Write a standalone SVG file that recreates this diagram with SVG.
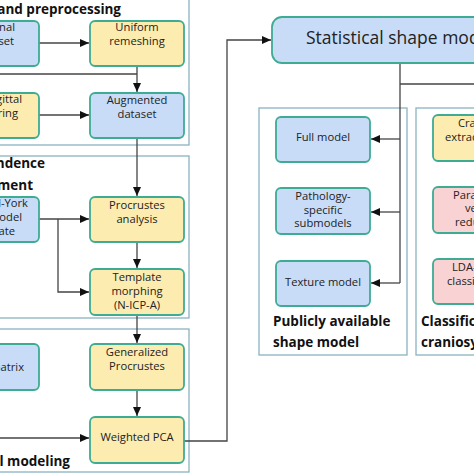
<svg xmlns="http://www.w3.org/2000/svg" width="474" height="474" viewBox="0 0 474 474">
<defs>
<marker id="ah" markerWidth="9" markerHeight="8" refX="9" refY="4" orient="auto" markerUnits="userSpaceOnUse">
<path d="M0,0 L9,4 L0,8 Z" fill="#111"/>
</marker>
<style>
.cont{fill:none;stroke:#8ab3c1;stroke-width:1.3}
.node{stroke:#3eab93;stroke-width:1.8}
.blue{fill:#c8dcf7}
.yel{fill:#fdecb0}
.pink{fill:#f9d2d3}
.t{font-family:"Open Sans","Noto Sans",sans-serif;font-size:11.2px;fill:#222}
.tm{text-anchor:middle}
.te{text-anchor:end}
.h{font-family:"Open Sans","Noto Sans",sans-serif;font-size:13.5px;font-weight:bold;fill:#111}
.c{fill:none;stroke:#444;stroke-width:1.3}
.ca{fill:none;stroke:#444;stroke-width:1.3;marker-end:url(#ah)}
</style>
</defs>
<rect width="474" height="474" fill="#fff"/>

<g id="containers">
<rect class="cont" x="-10" y="-10" width="199" height="155"/>
<rect class="cont" x="-10" y="156" width="199" height="162"/>
<rect class="cont" x="-10" y="329" width="199" height="143"/>
<rect class="cont" x="259" y="108" width="148" height="247"/>
<rect class="cont" x="416" y="108" width="80" height="247"/>
<text class="h te" x="121" y="14">Data acquisition and preprocessing</text>
<text class="h te" x="45" y="168">Correspondence</text>
<text class="h te" x="33" y="190">establishment</text>
<text class="h te" x="70" y="466">Statistical modeling</text>
<text class="h" x="273" y="326">Publicly available</text>
<text class="h" x="273" y="347">shape model</text>
<text class="h" x="421" y="326">Classification of</text>
<text class="h" x="421" y="347">craniosynostosis</text>
</g>

<g id="connectors">
<path class="ca" d="M39,43 H89"/>
<path class="c" d="M0,74 H137"/>
<path class="ca" d="M137,66 V92"/>
<path class="ca" d="M39,115 H89"/>
<path class="ca" d="M137,138 V196"/>
<path class="ca" d="M39,219 H89"/>
<path class="ca" d="M58,219 V292 H89"/>
<path class="ca" d="M137,242 V268"/>
<path class="ca" d="M137,315 V343"/>
<path class="ca" d="M137,390 V416"/>
<path class="ca" d="M0,438 H89"/>
<path class="ca" d="M184,441 H227 V40 H271"/>
<path class="c" d="M400,63 V283"/>
<path class="c" d="M400,84 H474"/>
<path class="ca" d="M400,139 H371"/>
<path class="ca" d="M400,212 H371"/>
<path class="ca" d="M400,283 H371"/>
</g>

<g id="n-original"><rect class="node blue" x="-55" y="21" width="94" height="45" rx="5"/>
<text class="t te" x="15" y="31">Original</text><text class="t te" x="14" y="45">dataset</text></g>
<g id="n-uniform"><rect class="node yel" x="90" y="21" width="94" height="45" rx="5"/>
<text class="t tm" x="137" y="31">Uniform</text><text class="t tm" x="137" y="45">remeshing</text></g>
<g id="n-sagittal"><rect class="node yel" x="-55" y="93" width="94" height="45" rx="5"/>
<text class="t te" x="22" y="103">Sagittal</text><text class="t te" x="18" y="117">mirroring</text></g>
<g id="n-augmented"><rect class="node blue" x="90" y="93" width="94" height="45" rx="5"/>
<text class="t tm" x="137" y="104">Augmented</text><text class="t tm" x="137" y="118">dataset</text></g>
<g id="n-template-src"><rect class="node blue" x="-55" y="197" width="94" height="45" rx="5"/>
<text class="t te" x="28" y="207">Liverpool-York</text><text class="t te" x="22" y="221">Head Model</text><text class="t te" x="15" y="235">template</text></g>
<g id="n-procrustes"><rect class="node yel" x="90" y="197" width="94" height="45" rx="5"/>
<text class="t tm" x="137" y="208.5">Procrustes</text><text class="t tm" x="137" y="222.5">analysis</text></g>
<g id="n-morphing"><rect class="node yel" x="90" y="269" width="94" height="46" rx="5"/>
<text class="t tm" x="137" y="280.5">Template</text><text class="t tm" x="137" y="294.5">morphing</text><text class="t tm" x="137" y="308.5">(N-ICP-A)</text></g>
<g id="n-weight"><rect class="node blue" x="-55" y="344" width="94" height="46" rx="5"/>
<text class="t te" x="24" y="371">Weight matrix</text></g>
<g id="n-gpa"><rect class="node yel" x="90" y="344" width="94" height="46" rx="5"/>
<text class="t tm" x="137" y="355.5">Generalized</text><text class="t tm" x="137" y="369.5">Procrustes</text></g>
<g id="n-wpca"><rect class="node yel" x="90" y="417" width="94" height="46" rx="5"/>
<text class="t tm" x="137" y="441">Weighted PCA</text></g>

<g id="n-ssm"><rect class="node blue" x="272" y="17" width="260" height="46" rx="10" stroke-width="2"/>
<text x="306" y="44" font-family="Open Sans, Noto Sans, sans-serif" font-size="17.5" fill="#222">Statistical shape model</text></g>

<g id="n-full"><rect class="node blue" x="276" y="117" width="94" height="45" rx="5"/>
<text class="t tm" x="323" y="141">Full model</text></g>
<g id="n-patho"><rect class="node blue" x="276" y="188" width="94" height="46" rx="5"/>
<text class="t tm" x="323" y="200">Pathology-</text><text class="t tm" x="323" y="213.5">specific</text><text class="t tm" x="323" y="227">submodels</text></g>
<g id="n-texture"><rect class="node blue" x="276" y="261" width="94" height="45" rx="5"/>
<text class="t tm" x="323" y="286">Texture model</text></g>

<g id="n-cranial"><rect class="node yel" x="433" y="115" width="94" height="46" rx="5"/>
<text class="t" x="458" y="126.5">Cranial</text><text class="t" x="445" y="140.5">extraction</text></g>
<g id="n-param"><rect class="node pink" x="433" y="187" width="94" height="46" rx="5"/>
<text class="t" x="453" y="198.5">Parameter</text><text class="t" x="465" y="212">vector</text><text class="t" x="455" y="226">reduction</text></g>
<g id="n-lda"><rect class="node pink" x="433" y="259" width="94" height="45" rx="5"/>
<text class="t" x="452" y="271">LDA-based</text><text class="t" x="447" y="285">classification</text></g>
</svg>
